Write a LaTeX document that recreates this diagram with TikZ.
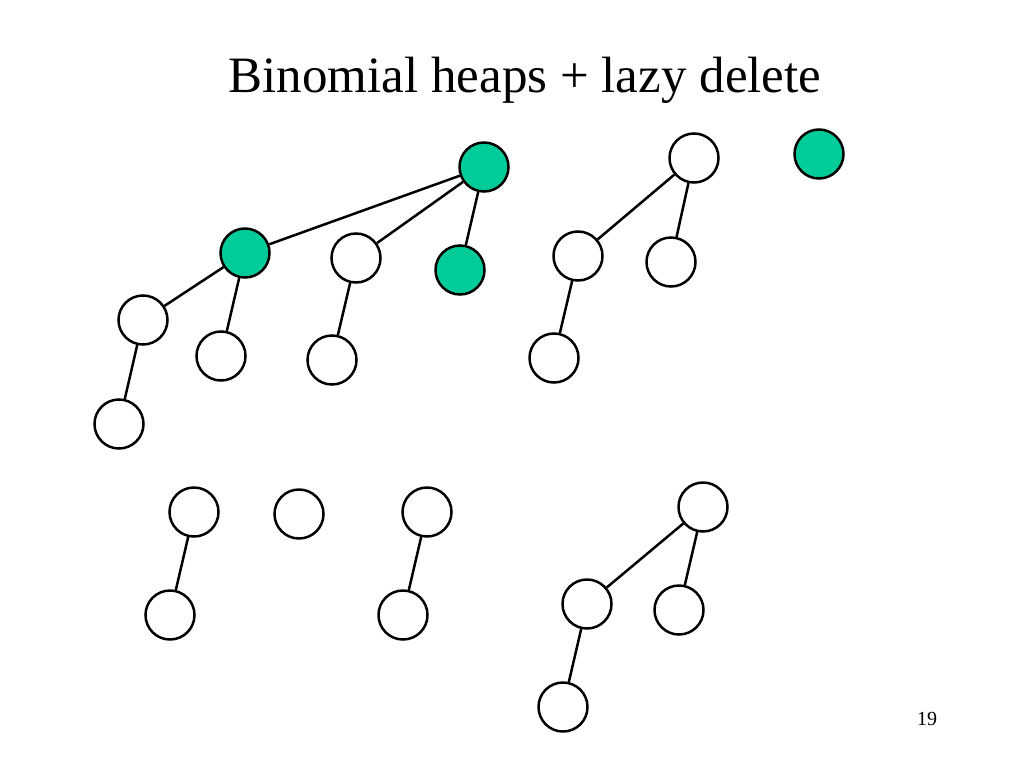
\documentclass[tikz,border=0pt]{standalone}
\usepackage{fontspec}
\setmainfont{Liberation Serif}
\usepackage{xcolor}
\definecolor{heapgreen}{HTML}{00CC99}

\begin{document}
\begin{tikzpicture}[
    x=1pt, y=-1pt,
    heapnode/.style={circle, draw, line width=2.5pt, minimum size=49pt, inner sep=0pt, fill=white},
    marked/.style={heapnode, fill=heapgreen},
    edge/.style={line width=2.5pt}
]
\useasboundingbox (0,0) rectangle (1024,768);

% Title
\node[anchor=base, font=\fontsize{51}{54}\selectfont] (title) at (525,92) {Binomial heaps + lazy delete};

% First tree (rank 3)
\node[marked] (a) at (484,167) {};
\node[marked] (b) at (245,253) {};
\node[heapnode] (c) at (356,258) {};
\node[marked] (d) at (460,270) {};
\node[heapnode] (e) at (143,320) {};
\node[heapnode] (f) at (221,356) {};
\node[heapnode] (g) at (119,424) {};
\node[heapnode] (h) at (332,360) {};

% Second tree (rank 2)
\node[heapnode] (i) at (694,158) {};
\node[heapnode] (j) at (578,256) {};
\node[heapnode] (k) at (671,262) {};
\node[heapnode] (l) at (554,358) {};

% Single node
\node[marked] (m) at (819,154) {};

% Bottom row
\node[heapnode] (n) at (194,512) {};
\node[heapnode] (o) at (170,615) {};
\node[heapnode] (p) at (299,514) {};
\node[heapnode] (q) at (427,512) {};
\node[heapnode] (r) at (403,615) {};
\node[heapnode] (s) at (703,507) {};
\node[heapnode] (t) at (587,604) {};
\node[heapnode] (u) at (679,610) {};
\node[heapnode] (v) at (563,707) {};

% Edges
\draw[edge] (a) -- (b);
\draw[edge] (a) -- (c);
\draw[edge] (a) -- (d);
\draw[edge] (b) -- (e);
\draw[edge] (b) -- (f);
\draw[edge] (e) -- (g);
\draw[edge] (c) -- (h);
\draw[edge] (i) -- (j);
\draw[edge] (i) -- (k);
\draw[edge] (j) -- (l);
\draw[edge] (n) -- (o);
\draw[edge] (q) -- (r);
\draw[edge] (s) -- (t);
\draw[edge] (s) -- (u);
\draw[edge] (t) -- (v);

% Page number
\node[anchor=base, font=\fontsize{20}{22}\selectfont] (pagenum) at (927,725) {19};

\end{tikzpicture}
\end{document}
